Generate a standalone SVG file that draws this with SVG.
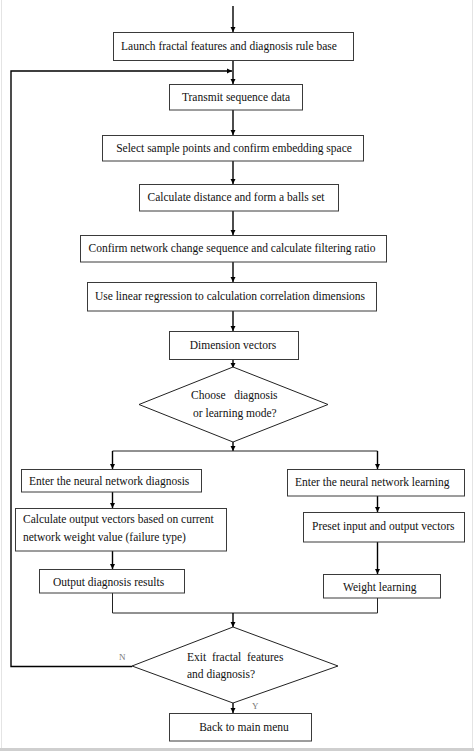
<svg xmlns="http://www.w3.org/2000/svg" width="474" height="751" viewBox="0 0 474 751">
<defs>
<marker id="ah" viewBox="0 0 10 10" refX="10" refY="5" markerWidth="5" markerHeight="6" markerUnits="userSpaceOnUse" orient="auto">
<path d="M0,0 L10,5 L0,10 z" fill="#000"/>
</marker>
</defs>
<style>
.box{fill:#fff;stroke:#3a3a3a;stroke-width:1}
.dia{fill:#fff;stroke:#222;stroke-width:1}
.t{font-family:"Liberation Serif","Times New Roman",serif;font-size:11.5px;fill:#111;white-space:pre}
.c{text-anchor:middle}
.a{fill:none;stroke:#000;stroke-width:1.4;marker-end:url(#ah)}
.l{fill:none;stroke:#000;stroke-width:1.4}
.thin{fill:none;stroke:#222;stroke-width:1}
.lbl{font-family:"Liberation Serif","Times New Roman",serif;font-size:9px;fill:#777}
</style>
<rect x="0" y="0" width="474" height="751" fill="#fff"/>
<line x1="1.5" y1="0" x2="1.5" y2="748" stroke="#e4e4e4" stroke-width="1"/>
<line x1="472.5" y1="0" x2="472.5" y2="748" stroke="#e4e4e4" stroke-width="1"/>
<rect x="0" y="748" width="474" height="3" fill="#cfcfcf"/>

<g id="connectors">
<line class="a" x1="233" y1="6" x2="233" y2="32"/>
<line class="a" x1="233" y1="61" x2="233" y2="84"/>
<polyline class="a" points="132,666.5 11,666.5 11,71 232,71"/>
<line class="a" x1="233" y1="110" x2="233" y2="135"/>
<line class="a" x1="233" y1="161" x2="233" y2="184"/>
<line class="a" x1="233" y1="211" x2="233" y2="235"/>
<line class="a" x1="233" y1="262" x2="233" y2="282"/>
<line class="a" x1="233" y1="311" x2="233" y2="331"/>
<line class="a" x1="233" y1="359" x2="233" y2="368"/>
<line class="a" x1="233" y1="442" x2="233" y2="451"/>
<line class="thin" x1="112.5" y1="451" x2="377.5" y2="451"/>
<line class="a" x1="112.5" y1="451" x2="112.5" y2="469"/>
<line class="a" x1="377.5" y1="451" x2="377.5" y2="469"/>
<line class="a" x1="112.5" y1="492" x2="112.5" y2="508"/>
<line class="a" x1="377.5" y1="496" x2="377.5" y2="512"/>
<line class="a" x1="112.5" y1="551" x2="112.5" y2="569"/>
<line class="a" x1="377.5" y1="542" x2="377.5" y2="574"/>
<polyline class="thin" points="112.5,593 112.5,613 377.5,613 377.5,598"/>
<line class="a" x1="233" y1="613" x2="233" y2="627"/>
<line class="a" x1="233" y1="703" x2="233" y2="713"/>
<text class="lbl" x="119" y="660">N</text>
<text class="lbl" x="252" y="709">Y</text>
</g>

<g id="n1"><rect class="box" x="113.5" y="32.5" width="240" height="28"/>
<text class="t c" x="229" y="50">Launch fractal features and diagnosis rule base</text></g>
<g id="n2"><rect class="box" x="169.5" y="84.5" width="133" height="25.5"/>
<text class="t c" x="236" y="101">Transmit sequence data</text></g>
<g id="n3"><rect class="box" x="102.5" y="135.5" width="261" height="25.5"/>
<text class="t c" x="234" y="152">Select sample points and confirm embedding space</text></g>
<g id="n4"><rect class="box" x="139.5" y="184.5" width="199" height="26.5"/>
<text class="t c" x="236" y="201">Calculate distance and form a balls set</text></g>
<g id="n5"><rect class="box" x="80.5" y="235.5" width="306" height="26.5"/>
<text class="t c" x="232" y="252">Confirm network change sequence and calculate filtering ratio</text></g>
<g id="n6"><rect class="box" x="87.5" y="282.5" width="289" height="28.5"/>
<text class="t c" x="230" y="300">Use linear regression to calculation correlation dimensions</text></g>
<g id="n7"><rect class="box" x="169.5" y="331.5" width="129" height="28"/>
<text class="t c" x="233" y="349">Dimension vectors</text></g>
<g id="d1"><polygon class="dia" points="233,367 328,404.5 233,442 139,404.5"/>
<text class="t" x="191" y="399" xml:space="preserve">Choose   diagnosis</text>
<text class="t" x="193" y="417">or learning mode?</text></g>
<g id="n8"><rect class="box" x="21.5" y="469.5" width="180" height="22.5"/>
<text class="t" x="29" y="485">Enter the neural network diagnosis</text></g>
<g id="n9"><rect class="box" x="287.5" y="469.5" width="177" height="26.5"/>
<text class="t" x="295" y="486">Enter the neural network learning</text></g>
<g id="n10"><rect class="box" x="15.5" y="508.5" width="211" height="42.5"/>
<text class="t" x="23" y="523">Calculate output vectors based on current</text>
<text class="t" x="23" y="541">network weight value (failure type)</text></g>
<g id="n11"><rect class="box" x="303.5" y="512.5" width="161" height="29.5"/>
<text class="t" x="312" y="530">Preset input and output vectors</text></g>
<g id="n12"><rect class="box" x="39.5" y="569.5" width="145" height="23.5"/>
<text class="t" x="53" y="586">Output diagnosis results</text></g>
<g id="n13"><rect class="box" x="323.5" y="574.5" width="117" height="23.5"/>
<text class="t" x="343" y="591">Weight learning</text></g>
<g id="d2"><polygon class="dia" points="233,627 338,666 233,703 132,666"/>
<text class="t" x="187" y="661" xml:space="preserve">Exit  fractal  features</text>
<text class="t" x="187" y="678">and diagnosis?</text></g>
<g id="n14"><rect class="box" x="169.5" y="713.5" width="142" height="27.5"/>
<text class="t c" x="244" y="731">Back to main menu</text></g>
</svg>
